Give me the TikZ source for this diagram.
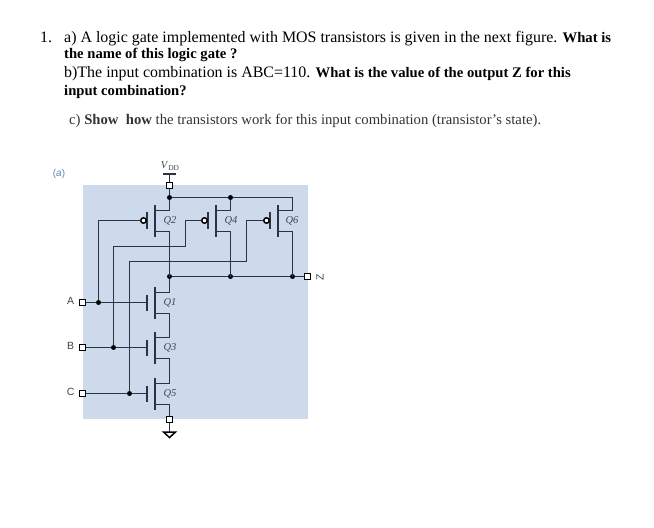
\documentclass[tikz,border=0pt]{standalone}
\usepackage{fontspec}
\setmainfont{Liberation Serif}
\setsansfont{Liberation Sans}
\definecolor{panel}{HTML}{CCDAEC}
\definecolor{wire}{HTML}{2B3442}
\definecolor{qtext}{HTML}{3E4552}
\definecolor{alabel}{HTML}{5B86A8}
\definecolor{lblgray}{HTML}{444444}
\newcommand{\bigreg}{\fontsize{16}{18}\selectfont}
\newcommand{\smbold}[1]{{\fontsize{14.7}{16}\selectfont\textbf{#1}}}
\tikzset{
  wireline/.style={draw=wire,line width=1.25bp},
  mosbar/.style={draw=wire,line width=2bp},
  term/.style={draw=black,fill=white,line width=1.5bp,minimum size=6pt,inner sep=0pt,rectangle},
  junc/.style={fill=black,circle,minimum size=5pt,inner sep=0pt},
  bubble/.style={draw=black,fill=white,line width=1.5bp,circle,minimum size=5.5pt,inner sep=0pt},
  qlabel/.style={font=\itshape\fontsize{10.5}{12}\selectfont,text=qtext,inner sep=0pt},
  pinlabel/.style={font=\sffamily\fontsize{10.5}{12}\selectfont,text=lblgray,inner sep=0pt},
  txt/.style={anchor=base west,inner sep=0pt,text=black},
  txtc/.style={anchor=base west,inner sep=0pt,font=\fontsize{14.75}{16}\selectfont,text=black!80},
}
\begin{document}
\begin{tikzpicture}[x=1bp,y=-1bp]
\useasboundingbox (0,0) rectangle (654,528);
\fill[panel] (83,185) rectangle (308,419);
% text
\node[txt] (n1) at (40,42.7) {\bigreg 1.};
\node[txt] (l1) at (64,42.7) {\bigreg a) A logic gate implemented with MOS transistors is given in the next figure. \smbold{What is}};
\node[txt] (l2) at (64,59) {\smbold{the name of this logic gate ?}};
\node[txt] (l3) at (64,77.3) {\bigreg b)The input combination is ABC=110. \smbold{What is the value of the output Z for this}};
\node[txt] (l4) at (64,96) {\smbold{input combination?}};
\node[txtc] (l5) at (69,124.5) {c) \textbf{Show\ \ how} the transistors work for this input combination (transistor’s state).};
\node[font=\sffamily\fontsize{10}{12}\selectfont,text=alabel,inner sep=0pt] (lbla) at (59,173.5) {(\textit{a})};
% terminals
\node[term] (vdd) at (169.5,185.5) {};
\node[term] (gnd) at (169.5,419.5) {};
\node[term] (tz) at (307.5,276.5) {};
\node[term] (ta) at (82.5,302.5) {};
\node[term] (tb) at (82.5,347.5) {};
\node[term] (tc) at (82.5,393.5) {};
\node[inner sep=0pt] (lvdd) at (170,166) {\fontsize{10.5}{12}\selectfont\color{qtext}\textit{V}\raisebox{-2pt}{\fontsize{7.5}{9}\selectfont DD}};
\node[pinlabel,rotate=90] (lz) at (320,277) {Z};
\node[pinlabel] (la) at (70.7,300.5) {A};
\node[pinlabel] (lb) at (70.7,346) {B};
\node[pinlabel] (lc) at (70.7,392) {C};
% junctions
\node[junc] (jt1) at (169.5,197.5) {};
\node[junc] (jt2) at (230.5,197.5) {};
\node[junc] (jz1) at (169.5,276.5) {};
\node[junc] (jz2) at (230.5,276.5) {};
\node[junc] (jz3) at (292.5,276.5) {};
\node[junc] (ja) at (98.5,302.5) {};
\node[junc] (jb) at (113.5,347.5) {};
\node[junc] (jc) at (129.5,393.5) {};
% corners
\coordinate (c6) at (292.5,197.5);
\coordinate (g2) at (143.5,220.5);
\coordinate (g4) at (204.5,220.5);
\coordinate (g6) at (266.5,220.5);
\coordinate (vt1) at (163,174.5);
\coordinate (vt2) at (176,174.5);
\coordinate (vtm) at (169.5,174.5);
% supply
\draw[wireline] (vdd.north) -- (vtm);
\draw[mosbar] (vt1) -- (vt2);
\draw[wireline] (vdd) -- (jt1) -- (jt2) -- (c6);
\draw[wireline] (jz1) -- (jz2) -- (jz3) -- (tz);
% gate wiring
\draw[wireline] (ta) -- (ja) -- (146.5,302.5);
\draw[wireline] (tb) -- (jb) -- (146.5,347.5);
\draw[wireline] (tc) -- (jc) -- (146.5,393.5);
\draw[wireline] (ja) -- (98.5,220.5) -- (g2);
\draw[wireline] (jb) -- (113.5,246.5) -- (185.5,246.5) -- (185.5,220.5) -- (g4);
\draw[wireline] (jc) -- (129.5,261.5) -- (246.5,261.5) -- (246.5,220.5) -- (g6);
% PMOS
\foreach \gx/\cx/\dx/\top in {146.5/154.5/169.5/jt1,207.5/215.5/230.5/jt2,269.5/277.5/292.5/c6}{
  \draw[mosbar] (\gx,212) -- (\gx,229);
  \draw[mosbar] (\cx,205) -- (\cx,237);
  \draw[wireline] (\cx,210.5) -- (\dx,210.5) -- (\top);
  \draw[wireline] (\cx,231.5) -- (\dx,231.5) -- (\dx,276.5);
}
\node[bubble] (b2) at (143.5,220.5) {};
\node[bubble] (b4) at (204.5,220.5) {};
\node[bubble] (b6) at (266.5,220.5) {};
\node[qlabel] (q2) at (170,220.5) {Q2};
\node[qlabel] (q4) at (231,220.5) {Q4};
\node[qlabel] (q6) at (292,220.5) {Q6};
% NMOS
\foreach \yy in {302.5,347.5,393.5}{
  \draw[mosbar] (146.5,\yy-8) -- (146.5,\yy+8);
  \draw[mosbar] (154.5,\yy-16) -- (154.5,\yy+16);
  \draw[wireline] (154.5,\yy-10) -- (169.5,\yy-10);
  \draw[wireline] (154.5,\yy+11) -- (169.5,\yy+11);
}
\draw[wireline] (jz1) -- (169.5,292.5);
\draw[wireline] (169.5,313.5) -- (169.5,337.5);
\draw[wireline] (169.5,358.5) -- (169.5,383.5);
\draw[wireline] (169.5,404.5) -- (gnd);
\node[qlabel] (q1) at (170,302.5) {Q1};
\node[qlabel] (q3) at (170,348) {Q3};
\node[qlabel] (q5) at (170,394) {Q5};
% ground
\coordinate (gtop) at (169.5,432);
\draw[wireline] (gnd) -- (gtop);
\draw[black,line width=1.5bp,fill=white] (163.5,432) -- (175.5,432) -- (169.5,437.5) -- cycle;
\end{tikzpicture}
\end{document}
